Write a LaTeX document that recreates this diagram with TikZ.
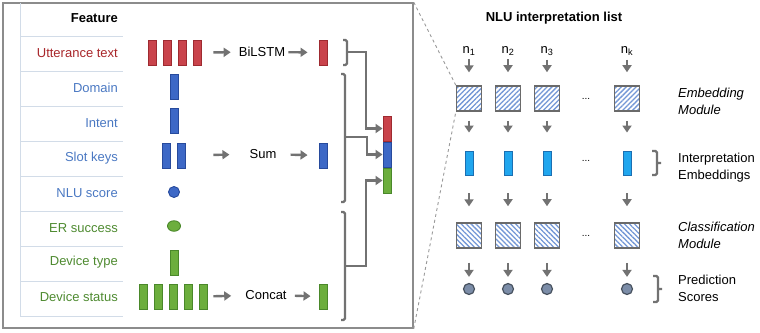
\documentclass[tikz,border=0pt]{standalone}
\usepackage{fontspec}
\setmainfont{Liberation Sans}
\usetikzlibrary{arrows.meta,patterns.meta,shapes.geometric}

\definecolor{redtxt}{HTML}{A8262A}
\definecolor{redfill}{HTML}{C9434B}
\definecolor{redline}{HTML}{9E2A30}
\definecolor{bluetxt}{HTML}{4A78C2}
\definecolor{bluefill}{HTML}{3D68C6}
\definecolor{blueline}{HTML}{274A9C}
\definecolor{greentxt}{HTML}{4E8A30}
\definecolor{greenfill}{HTML}{6CAE3D}
\definecolor{greenline}{HTML}{4A882A}
\definecolor{cyanfill}{HTML}{20A6EE}
\definecolor{cyanline}{HTML}{1B6FB2}
\definecolor{scorefill}{HTML}{7C8DA8}
\definecolor{scoreline}{HTML}{48525F}
\definecolor{hatchblue}{HTML}{7397D6}
\definecolor{boxgray}{HTML}{6A6A6A}
\definecolor{arrgray}{HTML}{727272}
\definecolor{sepcol}{HTML}{D2DCE8}
\definecolor{panelcol}{HTML}{8C8C8C}

\begin{document}
\begin{tikzpicture}[x=1pt, y=-1pt, >={Triangle[length=7pt,width=9pt]},
    font=\fontsize{13}{15}\selectfont,
    bar/.style={line width=0.9pt, inner sep=0pt, minimum width=8pt, minimum height=25pt},
    redbar/.style={bar, draw=redline, fill=redfill},
    bluebar/.style={bar, draw=blueline, fill=bluefill},
    greenbar/.style={bar, draw=greenline, fill=greenfill},
    embbar/.style={bar, minimum height=24pt, draw=cyanline, fill=cyanfill},
    featlabel/.style={anchor=east, inner sep=0pt},
    oplabel/.style={inner sep=0pt},
    hatchbox/.style={draw=boxgray, line width=1.6pt, minimum size=25pt, inner sep=0pt, preaction={fill=white}},
    embbox/.style={hatchbox, pattern={Lines[angle=45,distance=3.5pt,line width=1.3pt]}, pattern color=hatchblue},
    clsbox/.style={hatchbox, pattern={Lines[angle=-45,distance=3.5pt,line width=1.3pt]}, pattern color=hatchblue},
    score/.style={circle, draw=scoreline, fill=scorefill, line width=1.2pt, minimum size=11pt, inner sep=0pt},
    dots/.style={inner sep=0pt, font=\fontsize{10}{10}\selectfont},
    garrow/.style={->, draw=arrgray, line width=2.4pt},
    brace/.style={draw=arrgray, line width=2.2pt, rounded corners=1.5pt},
    sideline/.style={anchor=west, align=left, inner sep=0pt, font=\fontsize{13}{17}\selectfont},
    sepline/.style={draw=sepcol, line width=0.8pt},
  ]
    \useasboundingbox (0,0) rectangle (760,332);

    % feature panel
    \node[draw=panelcol, line width=1.5pt, minimum width=410pt, minimum height=325pt, inner sep=0pt] (panel) at (208,165.5) {};
    \draw[sepline] (20,3) -- (20,316);
    \draw[sepline] (20,36) -- (123,36) (20,71) -- (123,71) (20,106) -- (123,106) (20,141) -- (123,141);
    \draw[sepline] (20,176) -- (123,176) (20,211) -- (123,211) (20,246) -- (123,246) (20,281) -- (123,281) (20,316) -- (123,316);

    \node[featlabel, font=\fontsize{13}{15}\selectfont\bfseries] (feat) at (118,18) {Feature};
    \node[featlabel, text=redtxt] (lutt) at (118,53) {Utterance text};
    \node[featlabel, text=bluetxt] (ldom) at (118,88) {Domain};
    \node[featlabel, text=bluetxt] (lint) at (118,123) {Intent};
    \node[featlabel, text=bluetxt] (lslot) at (118,158) {Slot keys};
    \node[featlabel, text=bluetxt] (lnlu) at (118,193) {NLU score};
    \node[featlabel, text=greentxt] (ler) at (118,228) {ER success};
    \node[featlabel, text=greentxt] (ltype) at (118,262) {Device type};
    \node[featlabel, text=greentxt] (lstat) at (118,297) {Device status};

    % utterance text
    \node[redbar] (u1) at (152,52.5) {};
    \node[redbar] (u2) at (167,52.5) {};
    \node[redbar] (u3) at (182,52.5) {};
    \node[redbar] (u4) at (197,52.5) {};
    \node[oplabel] (bilstm) at (262,52) {BiLSTM};
    \node[redbar] (uout) at (323,52.5) {};
    \draw[garrow, shorten <=12pt, shorten >=8pt] (u4) -- (bilstm);
    \draw[garrow, shorten <=3pt, shorten >=11pt] (bilstm) -- (uout);

    % domain, intent, slot keys, nlu score
    \node[bluebar] (dom) at (174,86.5) {};
    \node[bluebar] (int) at (174,120.5) {};
    \node[bluebar] (s1) at (166,155.5) {};
    \node[bluebar] (s2) at (181,155.5) {};
    \node[oplabel] (sum) at (263,154) {Sum};
    \node[bluebar] (sout) at (323,155.5) {};
    \draw[garrow, shorten <=28pt, shorten >=20pt] (s2) -- (sum);
    \draw[garrow, shorten <=14pt, shorten >=11pt] (sum) -- (sout);
    \node[circle, bluebar, minimum size=11pt] (nlu) at (174,192) {};

    % er success, device type, device status
    \node[ellipse, greenbar, minimum width=13pt, minimum height=10.5pt] (er) at (174,226) {};
    \node[greenbar] (dtype) at (174,262.5) {};
    \node[greenbar] (d1) at (143,296.5) {};
    \node[greenbar] (d2) at (158,296.5) {};
    \node[greenbar] (d3) at (173,296.5) {};
    \node[greenbar] (d4) at (188,296.5) {};
    \node[greenbar] (d5) at (203,296.5) {};
    \node[oplabel] (concat) at (266,295) {Concat};
    \node[greenbar] (dout) at (323,296.5) {};
    \draw[garrow, shorten <=6pt, shorten >=14pt] (d5) -- (concat);
    \draw[garrow, shorten <=8pt, shorten >=8pt] (concat) -- (dout);

    % brackets and concatenated vector
    \draw[brace] (343,40) -- (347,40) -- (347,65) -- (343,65);
    \draw[brace] (341,74) -- (345,74) -- (345,202) -- (341,202);
    \draw[brace] (341,212) -- (345,212) -- (345,320) -- (341,320);
    \coordinate (bred) at (347,52);
    \coordinate (bblue) at (345,137);
    \coordinate (bgreen) at (345,266);
    \node[redbar] (cr) at (387,128.5) {};
    \node[bluebar] (cb) at (387,154.5) {};
    \node[greenbar] (cg) at (387,180.5) {};
    \draw[garrow, line width=2.2pt] (bred) -- (366,52) |- (cr);
    \draw[garrow, line width=2.2pt] (bblue) -- (367,137) |- (cb);
    \draw[garrow, line width=2.2pt] (bgreen) -- (366,266) |- (cg);

    % interpretation list
    \node[font=\fontsize{13}{15}\selectfont\bfseries] (title) at (554,18) {NLU interpretation list};

    \node[inner sep=0pt, anchor=base] (n1) at (469,53) {n\textsubscript{1}};
    \node[inner sep=0pt, anchor=base] (n2) at (508,53) {n\textsubscript{2}};
    \node[inner sep=0pt, anchor=base] (n3) at (547,53) {n\textsubscript{3}};
    \node[inner sep=0pt, anchor=base] (nk) at (627,53) {n\textsubscript{k}};

    \node[embbox] (e1) at (469,98.5) {};
    \node[embbox] (e2) at (508,98.5) {};
    \node[embbox] (e3) at (547,98.5) {};
    \node[embbox] (ek) at (627,98.5) {};
    \node[dots] (edots) at (586,99) {...};

    \node[embbar] (v1) at (469,163) {};
    \node[embbar] (v2) at (508,163) {};
    \node[embbar] (v3) at (547,163) {};
    \node[embbar] (vk) at (627,163) {};
    \node[dots] (vdots) at (586,161) {...};

    \node[clsbox] (c1) at (469,235.5) {};
    \node[clsbox] (c2) at (508,235.5) {};
    \node[clsbox] (c3) at (547,235.5) {};
    \node[clsbox] (ck) at (627,235.5) {};
    \node[dots] (cdots) at (586,236) {...};

    \node[score] (p1) at (469,289) {};
    \node[score] (p2) at (508,289) {};
    \node[score] (p3) at (547,289) {};
    \node[score] (pk) at (627,289) {};

    \draw[garrow, shorten <=4pt, shorten >=13pt] (n1) -- (e1);
    \draw[garrow, shorten <=4pt, shorten >=13pt] (n2) -- (e2);
    \draw[garrow, shorten <=4pt, shorten >=13pt] (n3) -- (e3);
    \draw[garrow, shorten <=4pt, shorten >=13pt] (nk) -- (ek);
    \draw[garrow, shorten <=9pt, shorten >=18pt] (e1) -- (v1);
    \draw[garrow, shorten <=9pt, shorten >=18pt] (e2) -- (v2);
    \draw[garrow, shorten <=9pt, shorten >=18pt] (e3) -- (v3);
    \draw[garrow, shorten <=9pt, shorten >=18pt] (ek) -- (vk);
    \draw[garrow, shorten <=18pt, shorten >=16pt] (v1) -- (c1);
    \draw[garrow, shorten <=18pt, shorten >=16pt] (v2) -- (c2);
    \draw[garrow, shorten <=18pt, shorten >=16pt] (v3) -- (c3);
    \draw[garrow, shorten <=18pt, shorten >=16pt] (vk) -- (ck);
    \draw[garrow, shorten <=14pt, shorten >=6pt] (c1) -- (p1);
    \draw[garrow, shorten <=14pt, shorten >=6pt] (c2) -- (p2);
    \draw[garrow, shorten <=14pt, shorten >=6pt] (c3) -- (p3);
    \draw[garrow, shorten <=14pt, shorten >=6pt] (ck) -- (pk);

    % zoom lines
    \draw[draw=gray!80, dashed, line width=0.9pt] (panel.north east) -- (e1.north west);
    \draw[draw=gray!80, dashed, line width=0.9pt] (panel.south east) -- (e1.south west);

    % side labels
    \node[sideline, font=\fontsize{13}{17}\selectfont\itshape] (embmod) at (678,101) {Embedding\\Module};
    \node[sideline] (interp) at (678,168) {Interpretation\\Embeddings};
    \node[sideline, font=\fontsize{13}{17}\selectfont\itshape] (clsmod) at (678,235) {Classification\\Module};
    \node[sideline] (pred) at (678,288) {Prediction\\Scores};
    \draw[brace] (652,151) -- (657,151) -- (657,175) -- (652,175) (657,163) -- (661,163);
    \draw[brace] (653,276) -- (658,276) -- (658,302) -- (653,302) (658,289) -- (662,289);
\end{tikzpicture}
\end{document}
